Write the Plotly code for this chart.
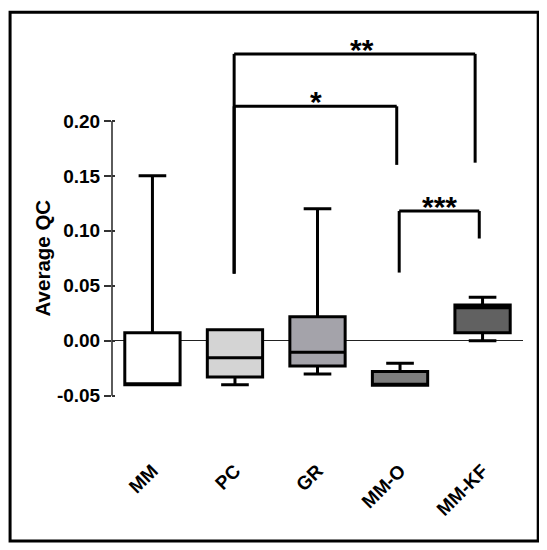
import plotly.graph_objects as go

# ---- data ----
categories = ["MM", "PC", "GR", "MM-O", "MM-KF"]
q1_vals = [-0.040, -0.033, -0.023, -0.0406, 0.0073]
median_vals = [-0.040, -0.0155, -0.0104, -0.0406, 0.0300]
q3_vals = [0.0073, 0.010, 0.0218, -0.028, 0.0324]
lower_vals = [-0.040, -0.040, -0.0304, -0.0406, 0.000]
upper_vals = [0.150, 0.010, 0.120, -0.0204, 0.0396]
fill_colors = ["#ffffff", "#d4d4d4", "#a4a3aa", "#7d7d7d", "#616161"]

y_tick_vals = [-0.05, 0.00, 0.05, 0.10, 0.15, 0.20]
y_tick_text = ["-0.05", "0.00", "0.05", "0.10", "0.15", "0.20"]

# significance brackets: (left idx, right idx, bar height, left drop end, right drop end, label, text shift px)
brackets = [
    (0.99, 3.91, 0.261, 0.061, 0.162, "**", 7),
    (0.99, 2.96, 0.2133, 0.061, 0.160, "*", 1),
    (2.99, 3.96, 0.118, 0.062, 0.093, "***", 0),
]

FONT = "Liberation Sans, Arial, sans-serif"
Y_RANGE = [-0.104, 0.28]

fig = go.Figure()
for i, c in enumerate(categories):
    fig.add_trace(go.Box(
        x=[c], q1=[q1_vals[i]], median=[median_vals[i]], q3=[q3_vals[i]],
        lowerfence=[lower_vals[i]], upperfence=[upper_vals[i]],
        fillcolor=fill_colors[i], line=dict(color="black", width=3),
        whiskerwidth=0.5, width=0.67, boxpoints=False, showlegend=False,
        hoverinfo="skip",
    ))

shapes = []
# y axis line spanning the tick range
shapes.append(dict(type="line", xref="paper", yref="y", x0=0, x1=0,
                   y0=min(y_tick_vals), y1=max(y_tick_vals),
                   line=dict(color="#333333", width=1.6)))
# brackets
for (a, b, h, da, db, lab, sh) in brackets:
    shapes.append(dict(type="line", xref="x", yref="y", x0=a, x1=a, y0=da, y1=h,
                       line=dict(color="black", width=3)))
    shapes.append(dict(type="line", xref="x", yref="y", x0=a, x1=b, y0=h, y1=h,
                       line=dict(color="black", width=3)))
    shapes.append(dict(type="line", xref="x", yref="y", x0=b, x1=b, y0=db, y1=h,
                       line=dict(color="black", width=3)))
# outer frame
shapes.append(dict(type="rect", xref="paper", yref="paper",
                   x0=-0.248, x1=1.037, y0=-0.204, y1=1.049,
                   line=dict(color="black", width=3), fillcolor="rgba(0,0,0,0)"))

annotations = []
for (a, b, h, da, db, lab, sh) in brackets:
    annotations.append(dict(x=(a + b) / 2, y=h, xref="x", yref="y", text=lab,
                            showarrow=False, yanchor="bottom", xshift=sh, yshift=-14,
                            font=dict(family=FONT, size=30, color="black", weight="bold")))
annotations.append(dict(x=-0.17, xref="paper", xanchor="center",
                        y=(min(y_tick_vals) + max(y_tick_vals)) / 2, yref="y", yanchor="middle",
                        text="Average QC", textangle=-90, showarrow=False,
                        font=dict(family=FONT, size=20.5, color="black", weight="bold")))

fig.update_layout(
    width=539, height=542,
    margin=dict(l=104, r=24, t=25, b=95),
    paper_bgcolor="white", plot_bgcolor="white",
    boxmode="overlay",
    shapes=shapes, annotations=annotations,
    xaxis=dict(type="category", categoryorder="array", categoryarray=categories,
               range=[-0.49, 4.49], showline=False, showgrid=False, zeroline=False,
               ticks="", tickangle=-45,
               tickfont=dict(family=FONT, size=19, color="black", weight="bold")),
    yaxis=dict(range=Y_RANGE, showline=False, showgrid=False,
               zeroline=True, zerolinecolor="#222222", zerolinewidth=1.3,
               tickvals=y_tick_vals, ticktext=y_tick_text,
               ticks="outside", ticklen=7, tickwidth=1.6, tickcolor="#333333",
               tickfont=dict(family=FONT, size=19, color="black", weight="bold")),
    yaxis2=dict(overlaying="y", side="left", range=Y_RANGE, showline=False,
                showgrid=False, zeroline=False, tickvals=y_tick_vals,
                showticklabels=False, ticks="inside", ticklen=3, tickwidth=1.6,
                tickcolor="#333333"),
)
# invisible helper trace so the overlay axis (inner tick halves) is drawn
fig.add_trace(go.Scatter(x=[categories[0]], y=[0], yaxis="y2", mode="markers",
                         marker=dict(opacity=0), showlegend=False, hoverinfo="skip"))

fig.write_html("out.html")
